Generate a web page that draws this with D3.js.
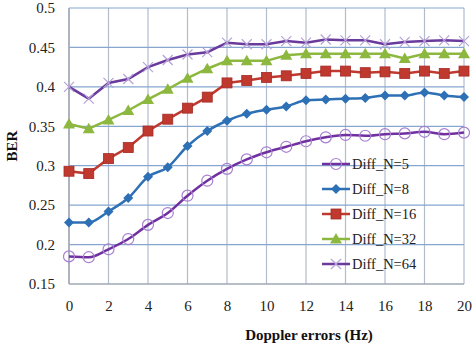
<!DOCTYPE html>
<html><head><meta charset="utf-8">
<script src="https://cdn.jsdelivr.net/npm/d3@7"></script>
<style>body{margin:0;background:#fff}svg{display:block}</style>
</head><body>
<svg id="c" width="474" height="345"></svg>
<script>
const dopplerHz = [0,1,2,3,4,5,6,7,8,9,10,11,12,13,14,15,16,17,18,19,20];
const seriesNames = ["Diff_N=5","Diff_N=8","Diff_N=16","Diff_N=32","Diff_N=64"];
const berN5  = [0.185,0.184,0.194,0.207,0.225,0.240,0.262,0.281,0.296,0.308,0.317,0.324,0.331,0.336,0.339,0.338,0.340,0.341,0.343,0.340,0.342];
const berN8  = [0.228,0.228,0.242,0.259,0.286,0.298,0.325,0.344,0.357,0.366,0.371,0.375,0.383,0.384,0.385,0.386,0.389,0.389,0.393,0.389,0.387];
const berN16 = [0.293,0.290,0.309,0.323,0.344,0.359,0.373,0.387,0.405,0.408,0.412,0.414,0.417,0.420,0.420,0.418,0.419,0.417,0.420,0.417,0.420];
const berN32 = [0.353,0.347,0.358,0.370,0.384,0.397,0.411,0.423,0.433,0.433,0.433,0.440,0.442,0.442,0.442,0.442,0.442,0.436,0.442,0.442,0.442];
const berN64 = [0.400,0.385,0.405,0.410,0.425,0.434,0.441,0.444,0.456,0.454,0.454,0.458,0.456,0.460,0.459,0.459,0.454,0.457,0.458,0.459,0.458];
const xTicks = [0,2,4,6,8,10,12,14,16,18,20];
const yTicks = [0.15,0.2,0.25,0.3,0.35,0.4,0.45,0.5];
const yTickLabels = ["0.15","0.2","0.25","0.3","0.35","0.4","0.45","0.5"];
const xTitle = "Doppler errors (Hz)";
const yTitle = "BER";

const svg = d3.select("#c");
const m = {l:69, r:10, t:8, b:61};
const W = 474, H = 345;
const x = d3.scaleLinear().domain([0,20]).range([m.l, W-m.r]);
const y = d3.scaleLinear().domain([0.15,0.5]).range([H-m.b, m.t]);
const font = "'Times New Roman', 'Liberation Serif', Tinos, 'Nimbus Roman', FreeSerif, 'DejaVu Serif', serif";

// grid
const g = svg.append("g");
g.selectAll("line.v").data(xTicks).join("line")
  .attr("x1", d=>x(d)).attr("x2", d=>x(d)).attr("y1", y(0.5)).attr("y2", y(0.15))
  .attr("stroke", "#b3bccb").attr("stroke-width", 1.2);
g.selectAll("line.h").data(yTicks.slice(1)).join("line")
  .attr("x1", x(0)).attr("x2", x(20)).attr("y1", d=>y(d)).attr("y2", d=>y(d))
  .attr("stroke", "#86a6cf").attr("stroke-width", 1.2);
g.append("line").attr("x1", x(0)).attr("x2", x(20)).attr("y1", y(0.15)).attr("y2", y(0.15))
  .attr("stroke", "#a0a8b4").attr("stroke-width", 1.5);
g.append("line").attr("x1", x(0)).attr("x2", x(0)).attr("y1", y(0.5)).attr("y2", y(0.15))
  .attr("stroke", "#a0a8b4").attr("stroke-width", 1.5);

// axes
const xAxis = d3.axisBottom(x).tickValues(xTicks).tickSize(0).tickPadding(16).tickFormat(d3.format("d"));
svg.append("g").attr("transform", `translate(0,${y(0.15)})`).call(xAxis)
  .call(a=>a.select(".domain").remove())
  .call(a=>a.attr("font-family", font).attr("font-size", 15))
  .selectAll("text").attr("fill", "#222");
const yAxis = d3.axisLeft(y).tickValues(yTicks).tickSize(0).tickPadding(14)
  .tickFormat((d,i)=>yTickLabels[i]);
svg.append("g").attr("transform", `translate(${x(0)},0)`).call(yAxis)
  .call(a=>a.select(".domain").remove())
  .call(a=>a.attr("font-family", font).attr("font-size", 15))
  .selectAll("text").attr("fill", "#222");

svg.append("text").attr("x", 309).attr("y", 340).attr("text-anchor", "middle")
  .attr("font-family", font).attr("font-weight", "bold").attr("font-size", 15).attr("fill", "#111")
  .text(xTitle);
svg.append("text").attr("transform", `translate(17,${(y(0.15)+y(0.5))/2}) rotate(-90)`)
  .attr("text-anchor", "middle").attr("font-family", font).attr("font-weight", "bold")
  .attr("font-size", 15).attr("fill", "#111").text(yTitle);

const series = [
  {name: seriesNames[0], vals: berN5,  color:"#7030a0", mcolor:"#a77fd0", marker:"circle", curve:d3.curveMonotoneX},
  {name: seriesNames[1], vals: berN8,  color:"#2e70b5", mcolor:"#2e70b5", marker:"diamond", curve:d3.curveMonotoneX},
  {name: seriesNames[2], vals: berN16, color:"#c0392f", mcolor:"#c0392f", marker:"square", curve:d3.curveLinear},
  {name: seriesNames[3], vals: berN32, color:"#8db83f", mcolor:"#8db83f", marker:"triangle", curve:d3.curveLinear},
  {name: seriesNames[4], vals: berN64, color:"#6a3a9c", mcolor:"#b6a2d8", marker:"cross", curve:d3.curveLinear},
];

function drawMarker(sel, type, color, cx, cy) {
  if (type === "circle") {
    sel.append("circle").attr("cx", cx).attr("cy", cy).attr("r", 5.5)
      .attr("fill", "none").attr("stroke", color).attr("stroke-width", 1.2);
  } else if (type === "diamond") {
    sel.append("path").attr("d", `M${cx},${cy-5}L${cx+5},${cy}L${cx},${cy+5}L${cx-5},${cy}Z`).attr("fill", color);
  } else if (type === "square") {
    sel.append("rect").attr("x", cx-5).attr("y", cy-5).attr("width", 10).attr("height", 10)
      .attr("fill", color).attr("stroke", "#a52a25").attr("stroke-width", 0.8);
  } else if (type === "triangle") {
    sel.append("path").attr("d", `M${cx},${cy-6}L${cx+6},${cy+4.5}L${cx-6},${cy+4.5}Z`).attr("fill", color);
  } else if (type === "cross") {
    sel.append("path").attr("d", `M${cx-5},${cy-5}L${cx+5},${cy+5}M${cx-5},${cy+5}L${cx+5},${cy-5}`)
      .attr("stroke", color).attr("stroke-width", 1.2);
  }
}

const plot = svg.append("g");
series.slice().reverse().forEach(s => {
  const line = d3.line().x((d,i)=>x(dopplerHz[i])).y(d=>y(d)).curve(s.curve);
  plot.append("path").attr("d", line(s.vals)).attr("fill", "none")
    .attr("stroke", s.color).attr("stroke-width", 2.5);
  const mg = plot.append("g");
  s.vals.forEach((v,i)=>drawMarker(mg, s.marker, s.mcolor, x(dopplerHz[i]), y(v)));
});

// legend
const leg = svg.append("g");
series.forEach((s,i)=>{
  const ly = 164 + i*25;
  leg.append("line").attr("x1", 322).attr("x2", 350).attr("y1", ly).attr("y2", ly)
    .attr("stroke", s.color).attr("stroke-width", 2.5);
  drawMarker(leg, s.marker, s.mcolor, 336, ly);
  leg.append("text").attr("x", 352).attr("y", ly+5).attr("font-family", font)
    .attr("font-size", 14.5).attr("fill", "#222").text(s.name);
});
</script>
</body></html>
